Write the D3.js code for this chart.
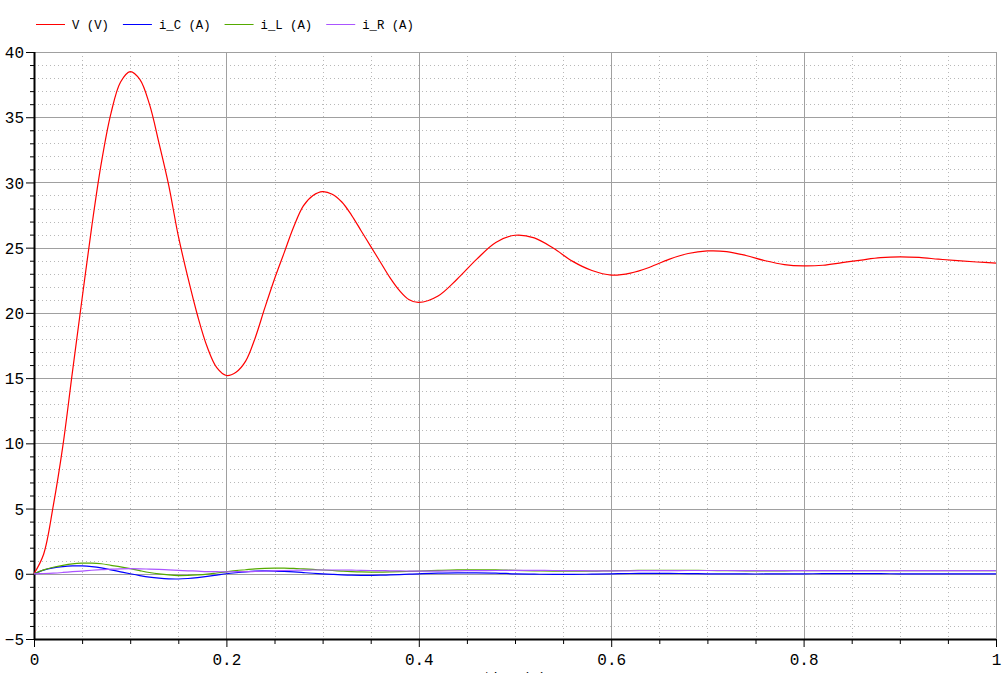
<!DOCTYPE html>
<html><head><meta charset="utf-8">
<script src="https://cdn.jsdelivr.net/npm/d3@7"></script>
<style>
html,body{margin:0;padding:0;background:#fff;overflow:hidden;}
svg{display:block;}
text{font-family:"Liberation Mono","DejaVu Sans Mono",monospace;fill:#000;}
</style></head>
<body>
<svg id="chart" width="1006" height="673"></svg>
<script>
// ---- data ----
const time = [0,0.01,0.02,0.03,0.04,0.05,0.06,0.07,0.08,0.09,
  0.10,0.11,0.12,0.13,0.14,0.15,0.16,0.17,0.18,0.19,
  0.20,0.21,0.22,0.23,0.24,0.25,0.26,0.27,0.28,0.29,
  0.30,0.31,0.32,0.33,0.34,0.35,0.36,0.37,0.38,0.39,0.40,
  0.42,0.44,0.46,0.48,0.50,0.52,0.54,0.56,0.58,0.60,
  0.62,0.64,0.66,0.68,0.70,0.72,0.74,0.76,0.78,0.80,
  0.82,0.84,0.86,0.88,0.90,0.92,0.94,0.96,0.98,1.00];
const V = [0,1.5,5.2,9.8,15.5,21.1,26.6,31.5,35.3,37.7,
  38.5,37.9,36.0,33.0,29.8,25.9,22.7,19.8,17.4,15.8,
  15.2,15.45,16.3,18.1,20.4,22.6,24.6,26.6,28.2,29.0,
  29.3,29.1,28.5,27.5,26.3,25.1,23.9,22.7,21.7,21.0,20.8,
  21.3,22.6,24.1,25.4,25.95,25.75,24.95,23.95,23.25,22.9,
  23.05,23.5,24.1,24.55,24.75,24.7,24.4,24.0,23.7,23.6,
  23.65,23.85,24.05,24.23,24.3,24.25,24.12,24.0,23.9,23.82];
const iC = [0,0.28,0.45,0.55,0.60,0.60,0.55,0.45,0.30,0.15,
  0.0,-0.14,-0.26,-0.34,-0.39,-0.40,-0.36,-0.29,-0.20,-0.10,
  0.0,0.08,0.15,0.20,0.22,0.21,0.18,0.14,0.09,0.04,
  0.0,-0.04,-0.08,-0.11,-0.12,-0.12,-0.11,-0.09,-0.06,-0.03,0.0,
  0.05,0.07,0.07,0.05,0.0,-0.03,-0.04,-0.04,-0.03,0.0,
  0.02,0.025,0.025,0.015,0.0,-0.01,-0.015,-0.015,-0.01,0.0,
  0.005,0.008,0.008,0.005,0.0,-0.003,-0.004,-0.003,-0.002,0.0];
const iL = [0,0.30,0.50,0.65,0.76,0.81,0.82,0.77,0.65,0.53,
  0.39,0.24,0.10,-0.01,-0.09,-0.14,-0.13,-0.09,-0.03,0.06,
  0.15,0.24,0.31,0.38,0.42,0.44,0.43,0.41,0.37,0.33,
  0.29,0.25,0.21,0.17,0.14,0.13,0.13,0.14,0.16,0.18,0.21,
  0.26,0.30,0.31,0.30,0.26,0.23,0.21,0.20,0.20,0.23,
  0.25,0.265,0.265,0.265,0.25,0.24,0.225,0.225,0.23,0.24,
  0.245,0.248,0.248,0.245,0.24,0.237,0.236,0.237,0.238,0.24];
const iR = [0,0.02,0.05,0.10,0.16,0.21,0.27,0.32,0.35,0.38,
  0.39,0.38,0.36,0.33,0.30,0.26,0.23,0.20,0.17,0.16,
  0.15,0.16,0.16,0.18,0.20,0.23,0.25,0.27,0.28,0.29,
  0.29,0.29,0.29,0.28,0.26,0.25,0.24,0.23,0.22,0.21,0.21,
  0.21,0.23,0.24,0.25,0.26,0.26,0.25,0.24,0.23,0.23,
  0.23,0.24,0.24,0.25,0.25,0.25,0.24,0.24,0.24,0.24,
  0.24,0.24,0.24,0.24,0.24,0.24,0.24,0.24,0.24,0.24];
const seriesNames = ["V (V)","i_C (A)","i_L (A)","i_R (A)"];
const seriesColors = ["#ff0000","#0000ff","#55aa00","#aa55ff"];
const xTickValues = [0,0.2,0.4,0.6,0.8,1];
const yTickValues = [-5,0,5,10,15,20,25,30,35,40];
const xAxisTitle = "time (s)";

// ---- layout ----
const svg = d3.select("#chart");
const L = 34, R = 996, T = 52, B = 639;
const x = d3.scaleLinear().domain([0,1]).range([L,R]);
const y = d3.scaleLinear().domain([-5,40]).range([B,T]);

const grid = svg.append("g");
const xMinor = d3.range(0,1.0001,0.05).filter(v=>Math.abs(v*5-Math.round(v*5))>1e-6);
const yMinor = d3.range(-5,40.0001,1).filter(v=>v%5!==0);
grid.selectAll(".vx").data(xMinor).join("line")
  .attr("x1",d=>Math.round(x(d))+0.5).attr("x2",d=>Math.round(x(d))+0.5)
  .attr("y1",T).attr("y2",B)
  .attr("stroke","#b8b8b8").attr("stroke-dasharray","1,3");
grid.selectAll(".hy").data(yMinor).join("line")
  .attr("y1",d=>Math.round(y(d))+0.5).attr("y2",d=>Math.round(y(d))+0.5)
  .attr("x1",L).attr("x2",R)
  .attr("stroke","#b8b8b8").attr("stroke-dasharray","1,3");
grid.selectAll(".VX").data(xTickValues.filter(d=>d>0)).join("line")
  .attr("x1",d=>Math.round(x(d))+0.5).attr("x2",d=>Math.round(x(d))+0.5)
  .attr("y1",T).attr("y2",B).attr("stroke","#a0a0a0");
grid.selectAll(".HY").data(yTickValues.filter(d=>d>-5)).join("line")
  .attr("y1",d=>Math.round(y(d))+0.5).attr("y2",d=>Math.round(y(d))+0.5)
  .attr("x1",L).attr("x2",R).attr("stroke","#a0a0a0");

// axes
const yAxis = d3.axisLeft(y).tickValues(yTickValues).tickSize(8).tickPadding(2).tickFormat(d3.format("d"));
const yAx = svg.append("g").attr("transform",`translate(${L},0)`).call(yAxis);
const yMinorAx = svg.append("g").attr("transform",`translate(${L},0)`)
  .call(d3.axisLeft(y).tickValues(yMinor).tickSize(4).tickFormat(""));
const xAxis = d3.axisBottom(x).tickValues(xTickValues).tickSize(8).tickPadding(4)
  .tickFormat(d=>d===0?"0":d===1?"1":d3.format(".1f")(d));
const xAx = svg.append("g").attr("transform",`translate(0,${B})`).call(xAxis);
const xMinorAx = svg.append("g").attr("transform",`translate(0,${B})`)
  .call(d3.axisBottom(x).tickValues(xMinor).tickSize(5).tickFormat(""));
[yAx,yMinorAx,xAx,xMinorAx].forEach(g=>{
  g.select(".domain").remove();
  g.selectAll("line").attr("stroke","#000");
});
yAx.selectAll("text").attr("font-size","16px").attr("font-family","Liberation Mono, monospace").attr("dy","0.35em");
xAx.selectAll("text").attr("font-size","16px").attr("font-family","Liberation Mono, monospace").attr("dy","0.9em");
svg.append("line").attr("x1",L+0.5).attr("x2",L+0.5).attr("y1",T).attr("y2",B+1).attr("stroke","#000").attr("stroke-width",2);
svg.append("line").attr("x1",L).attr("x2",R).attr("y1",B+0.5).attr("y2",B+0.5).attr("stroke","#000").attr("stroke-width",2);

// axis title: in the reference it sits at the very bottom edge, mostly outside the window
svg.append("text").attr("x",515).attr("y",681).attr("text-anchor","middle")
  .attr("font-size","13px").text(xAxisTitle);

// lines
const allSeries = [V,iC,iL,iR];
const line = d3.line().x((d,i)=>x(time[i])).y(d=>y(d)).curve(d3.curveCatmullRom.alpha(0.5));
const lines = svg.append("g");
allSeries.forEach((s,k)=>{
  lines.append("path").datum(s).attr("d",line)
    .attr("fill","none").attr("stroke",seriesColors[k]).attr("stroke-width",1.2);
});

// legend
const leg = svg.append("g");
let lx = 36;
seriesNames.forEach((nm,k)=>{
  leg.append("line").attr("x1",lx).attr("x2",lx+29).attr("y1",24.5).attr("y2",24.5)
    .attr("stroke",seriesColors[k]).attr("stroke-width",1);
  const t = leg.append("text").attr("x",lx+36).attr("y",29).attr("font-size","12.3px").text(nm);
  lx = lx + 36 + t.node().getComputedTextLength() + 14;
});
</script>
</body></html>
